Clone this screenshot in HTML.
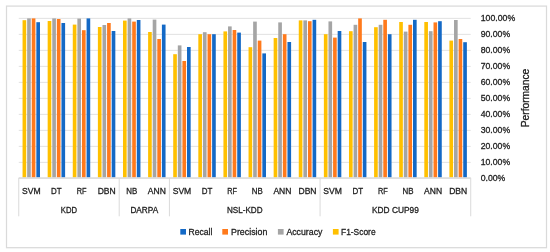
<!DOCTYPE html>
<html lang="en">
<head>
<meta charset="utf-8">
<title>Performance chart</title>
<style>
html,body{margin:0;padding:0;background:#fff;}
body{width:550px;height:252px;overflow:hidden;}
svg{display:block;}
text{font-family:"Liberation Sans", Arial, sans-serif;fill:#222222;stroke:#222222;stroke-width:0.3px;}
</style>
</head>
<body>
<svg width="550" height="252" viewBox="0 0 550 252">
<rect x="0" y="0" width="550" height="252" fill="#ffffff"/>
<rect x="6.5" y="6.1" width="540.0" height="241.6" fill="#ffffff" stroke="#DADADA" stroke-width="1.25"/>
<line x1="18.75" y1="18.40" x2="470.73" y2="18.40" stroke="#DFDFDF" stroke-width="0.9"/>
<line x1="18.75" y1="34.40" x2="470.73" y2="34.40" stroke="#DFDFDF" stroke-width="0.9"/>
<line x1="18.75" y1="50.40" x2="470.73" y2="50.40" stroke="#DFDFDF" stroke-width="0.9"/>
<line x1="18.75" y1="66.40" x2="470.73" y2="66.40" stroke="#DFDFDF" stroke-width="0.9"/>
<line x1="18.75" y1="82.40" x2="470.73" y2="82.40" stroke="#DFDFDF" stroke-width="0.9"/>
<line x1="18.75" y1="98.40" x2="470.73" y2="98.40" stroke="#DFDFDF" stroke-width="0.9"/>
<line x1="18.75" y1="114.40" x2="470.73" y2="114.40" stroke="#DFDFDF" stroke-width="0.9"/>
<line x1="18.75" y1="130.40" x2="470.73" y2="130.40" stroke="#DFDFDF" stroke-width="0.9"/>
<line x1="18.75" y1="146.40" x2="470.73" y2="146.40" stroke="#DFDFDF" stroke-width="0.9"/>
<line x1="18.75" y1="162.40" x2="470.73" y2="162.40" stroke="#DFDFDF" stroke-width="0.9"/>
<line x1="18.75" y1="178.40" x2="470.73" y2="178.40" stroke="#DFDFDF" stroke-width="0.9"/>
<rect x="22.55" y="20.20" width="3.65" height="157.20" fill="#FFC000"/>
<rect x="27.15" y="18.40" width="3.65" height="159.00" fill="#A5A5A5"/>
<rect x="31.75" y="18.40" width="3.65" height="159.00" fill="#FF7A1C"/>
<rect x="36.35" y="22.20" width="3.65" height="155.20" fill="#1469C6"/>
<rect x="47.66" y="21.00" width="3.65" height="156.40" fill="#FFC000"/>
<rect x="52.26" y="18.40" width="3.65" height="159.00" fill="#A5A5A5"/>
<rect x="56.86" y="19.00" width="3.65" height="158.40" fill="#FF7A1C"/>
<rect x="61.46" y="23.00" width="3.65" height="154.40" fill="#1469C6"/>
<rect x="72.77" y="24.60" width="3.65" height="152.80" fill="#FFC000"/>
<rect x="77.37" y="18.60" width="3.65" height="158.80" fill="#A5A5A5"/>
<rect x="81.97" y="30.20" width="3.65" height="147.20" fill="#FF7A1C"/>
<rect x="86.57" y="18.40" width="3.65" height="159.00" fill="#1469C6"/>
<rect x="97.88" y="27.00" width="3.65" height="150.40" fill="#FFC000"/>
<rect x="102.48" y="25.00" width="3.65" height="152.40" fill="#A5A5A5"/>
<rect x="107.08" y="23.00" width="3.65" height="154.40" fill="#FF7A1C"/>
<rect x="111.68" y="31.00" width="3.65" height="146.40" fill="#1469C6"/>
<rect x="122.99" y="20.60" width="3.65" height="156.80" fill="#FFC000"/>
<rect x="127.59" y="18.40" width="3.65" height="159.00" fill="#A5A5A5"/>
<rect x="132.19" y="21.60" width="3.65" height="155.80" fill="#FF7A1C"/>
<rect x="136.79" y="20.00" width="3.65" height="157.40" fill="#1469C6"/>
<rect x="148.10" y="32.00" width="3.65" height="145.40" fill="#FFC000"/>
<rect x="152.70" y="19.60" width="3.65" height="157.80" fill="#A5A5A5"/>
<rect x="157.30" y="39.00" width="3.65" height="138.40" fill="#FF7A1C"/>
<rect x="161.90" y="24.60" width="3.65" height="152.80" fill="#1469C6"/>
<rect x="173.21" y="54.20" width="3.65" height="123.20" fill="#FFC000"/>
<rect x="177.81" y="45.40" width="3.65" height="132.00" fill="#A5A5A5"/>
<rect x="182.41" y="61.00" width="3.65" height="116.40" fill="#FF7A1C"/>
<rect x="187.01" y="47.00" width="3.65" height="130.40" fill="#1469C6"/>
<rect x="198.32" y="34.20" width="3.65" height="143.20" fill="#FFC000"/>
<rect x="202.92" y="32.20" width="3.65" height="145.20" fill="#A5A5A5"/>
<rect x="207.52" y="34.20" width="3.65" height="143.20" fill="#FF7A1C"/>
<rect x="212.12" y="34.20" width="3.65" height="143.20" fill="#1469C6"/>
<rect x="223.43" y="31.40" width="3.65" height="146.00" fill="#FFC000"/>
<rect x="228.03" y="26.40" width="3.65" height="151.00" fill="#A5A5A5"/>
<rect x="232.63" y="30.00" width="3.65" height="147.40" fill="#FF7A1C"/>
<rect x="237.23" y="32.60" width="3.65" height="144.80" fill="#1469C6"/>
<rect x="248.54" y="47.20" width="3.65" height="130.20" fill="#FFC000"/>
<rect x="253.14" y="21.60" width="3.65" height="155.80" fill="#A5A5A5"/>
<rect x="257.74" y="40.60" width="3.65" height="136.80" fill="#FF7A1C"/>
<rect x="262.34" y="53.40" width="3.65" height="124.00" fill="#1469C6"/>
<rect x="273.65" y="38.00" width="3.65" height="139.40" fill="#FFC000"/>
<rect x="278.25" y="22.40" width="3.65" height="155.00" fill="#A5A5A5"/>
<rect x="282.85" y="34.20" width="3.65" height="143.20" fill="#FF7A1C"/>
<rect x="287.45" y="42.00" width="3.65" height="135.40" fill="#1469C6"/>
<rect x="298.76" y="20.40" width="3.65" height="157.00" fill="#FFC000"/>
<rect x="303.36" y="20.40" width="3.65" height="157.00" fill="#A5A5A5"/>
<rect x="307.96" y="21.20" width="3.65" height="156.20" fill="#FF7A1C"/>
<rect x="312.56" y="19.80" width="3.65" height="157.60" fill="#1469C6"/>
<rect x="323.87" y="34.20" width="3.65" height="143.20" fill="#FFC000"/>
<rect x="328.47" y="21.40" width="3.65" height="156.00" fill="#A5A5A5"/>
<rect x="333.07" y="37.60" width="3.65" height="139.80" fill="#FF7A1C"/>
<rect x="337.67" y="31.00" width="3.65" height="146.40" fill="#1469C6"/>
<rect x="348.98" y="31.20" width="3.65" height="146.20" fill="#FFC000"/>
<rect x="353.58" y="24.80" width="3.65" height="152.60" fill="#A5A5A5"/>
<rect x="358.18" y="18.40" width="3.65" height="159.00" fill="#FF7A1C"/>
<rect x="362.78" y="42.00" width="3.65" height="135.40" fill="#1469C6"/>
<rect x="374.09" y="27.20" width="3.65" height="150.20" fill="#FFC000"/>
<rect x="378.69" y="24.80" width="3.65" height="152.60" fill="#A5A5A5"/>
<rect x="383.29" y="19.80" width="3.65" height="157.60" fill="#FF7A1C"/>
<rect x="387.89" y="34.20" width="3.65" height="143.20" fill="#1469C6"/>
<rect x="399.20" y="22.00" width="3.65" height="155.40" fill="#FFC000"/>
<rect x="403.80" y="31.60" width="3.65" height="145.80" fill="#A5A5A5"/>
<rect x="408.40" y="24.80" width="3.65" height="152.60" fill="#FF7A1C"/>
<rect x="413.00" y="19.80" width="3.65" height="157.60" fill="#1469C6"/>
<rect x="424.31" y="22.00" width="3.65" height="155.40" fill="#FFC000"/>
<rect x="428.91" y="31.20" width="3.65" height="146.20" fill="#A5A5A5"/>
<rect x="433.51" y="22.40" width="3.65" height="155.00" fill="#FF7A1C"/>
<rect x="438.11" y="21.20" width="3.65" height="156.20" fill="#1469C6"/>
<rect x="449.42" y="40.60" width="3.65" height="136.80" fill="#FFC000"/>
<rect x="454.02" y="20.00" width="3.65" height="157.40" fill="#A5A5A5"/>
<rect x="458.62" y="39.00" width="3.65" height="138.40" fill="#FF7A1C"/>
<rect x="463.22" y="42.20" width="3.65" height="135.20" fill="#1469C6"/>
<line x1="18.75" y1="177.90" x2="470.73" y2="177.90" stroke="#D4D4D4" stroke-width="1"/>
<line x1="18.75" y1="177.90" x2="18.75" y2="216.30" stroke="#DADADA" stroke-width="1"/>
<line x1="119.19" y1="177.90" x2="119.19" y2="216.30" stroke="#DADADA" stroke-width="1"/>
<line x1="169.41" y1="177.90" x2="169.41" y2="216.30" stroke="#DADADA" stroke-width="1"/>
<line x1="320.07" y1="177.90" x2="320.07" y2="216.30" stroke="#DADADA" stroke-width="1"/>
<line x1="470.73" y1="177.90" x2="470.73" y2="216.30" stroke="#DADADA" stroke-width="1"/>
<text x="31.30" y="193.5" font-size="9.2" text-anchor="middle" textLength="18.6" lengthAdjust="spacingAndGlyphs">SVM</text>
<text x="56.41" y="193.5" font-size="9.2" text-anchor="middle" textLength="10.6" lengthAdjust="spacingAndGlyphs">DT</text>
<text x="81.53" y="193.5" font-size="9.2" text-anchor="middle" textLength="9.8" lengthAdjust="spacingAndGlyphs">RF</text>
<text x="106.63" y="193.5" font-size="9.2" text-anchor="middle" textLength="18.0" lengthAdjust="spacingAndGlyphs">DBN</text>
<text x="131.75" y="193.5" font-size="9.2" text-anchor="middle" textLength="11.0" lengthAdjust="spacingAndGlyphs">NB</text>
<text x="156.85" y="193.5" font-size="9.2" text-anchor="middle" textLength="18.0" lengthAdjust="spacingAndGlyphs">ANN</text>
<text x="181.97" y="193.5" font-size="9.2" text-anchor="middle" textLength="18.6" lengthAdjust="spacingAndGlyphs">SVM</text>
<text x="207.07" y="193.5" font-size="9.2" text-anchor="middle" textLength="10.6" lengthAdjust="spacingAndGlyphs">DT</text>
<text x="232.19" y="193.5" font-size="9.2" text-anchor="middle" textLength="9.8" lengthAdjust="spacingAndGlyphs">RF</text>
<text x="257.29" y="193.5" font-size="9.2" text-anchor="middle" textLength="11.0" lengthAdjust="spacingAndGlyphs">NB</text>
<text x="282.40" y="193.5" font-size="9.2" text-anchor="middle" textLength="18.0" lengthAdjust="spacingAndGlyphs">ANN</text>
<text x="307.51" y="193.5" font-size="9.2" text-anchor="middle" textLength="18.0" lengthAdjust="spacingAndGlyphs">DBN</text>
<text x="332.62" y="193.5" font-size="9.2" text-anchor="middle" textLength="18.6" lengthAdjust="spacingAndGlyphs">SVM</text>
<text x="357.74" y="193.5" font-size="9.2" text-anchor="middle" textLength="10.6" lengthAdjust="spacingAndGlyphs">DT</text>
<text x="382.84" y="193.5" font-size="9.2" text-anchor="middle" textLength="9.8" lengthAdjust="spacingAndGlyphs">RF</text>
<text x="407.95" y="193.5" font-size="9.2" text-anchor="middle" textLength="11.0" lengthAdjust="spacingAndGlyphs">NB</text>
<text x="433.06" y="193.5" font-size="9.2" text-anchor="middle" textLength="18.0" lengthAdjust="spacingAndGlyphs">ANN</text>
<text x="458.18" y="193.5" font-size="9.2" text-anchor="middle" textLength="18.0" lengthAdjust="spacingAndGlyphs">DBN</text>
<text x="68.97" y="213.2" font-size="9.2" text-anchor="middle" textLength="16.2" lengthAdjust="spacingAndGlyphs">KDD</text>
<text x="144.30" y="213.2" font-size="9.2" text-anchor="middle" textLength="27.8" lengthAdjust="spacingAndGlyphs">DARPA</text>
<text x="244.74" y="213.2" font-size="9.2" text-anchor="middle" textLength="35.6" lengthAdjust="spacingAndGlyphs">NSL-KDD</text>
<text x="395.40" y="213.2" font-size="9.2" text-anchor="middle" textLength="46.8" lengthAdjust="spacingAndGlyphs">KDD CUP99</text>
<text x="480.7" y="21.45" font-size="9.1" textLength="34.5" lengthAdjust="spacingAndGlyphs">100.00%</text>
<text x="480.7" y="37.45" font-size="9.1" textLength="29.4" lengthAdjust="spacingAndGlyphs">90.00%</text>
<text x="480.7" y="53.45" font-size="9.1" textLength="29.4" lengthAdjust="spacingAndGlyphs">80.00%</text>
<text x="480.7" y="69.45" font-size="9.1" textLength="29.4" lengthAdjust="spacingAndGlyphs">70.00%</text>
<text x="480.7" y="85.45" font-size="9.1" textLength="29.4" lengthAdjust="spacingAndGlyphs">60.00%</text>
<text x="480.7" y="101.45" font-size="9.1" textLength="29.4" lengthAdjust="spacingAndGlyphs">50.00%</text>
<text x="480.7" y="117.45" font-size="9.1" textLength="29.4" lengthAdjust="spacingAndGlyphs">40.00%</text>
<text x="480.7" y="133.45" font-size="9.1" textLength="29.4" lengthAdjust="spacingAndGlyphs">30.00%</text>
<text x="480.7" y="149.45" font-size="9.1" textLength="29.4" lengthAdjust="spacingAndGlyphs">20.00%</text>
<text x="480.7" y="165.45" font-size="9.1" textLength="29.4" lengthAdjust="spacingAndGlyphs">10.00%</text>
<text x="480.7" y="181.45" font-size="9.1" textLength="24.6" lengthAdjust="spacingAndGlyphs">0.00%</text>
<text transform="translate(529.4,127.3) rotate(-90)" font-size="10.0" textLength="58.6" lengthAdjust="spacingAndGlyphs">Performance</text>
<rect x="180.30" y="229.0" width="5.7" height="5.6" fill="#1469C6"/>
<text x="188.60" y="234.8" font-size="9.8" textLength="23.8" lengthAdjust="spacingAndGlyphs">Recall</text>
<rect x="222.30" y="229.0" width="5.7" height="5.6" fill="#FF7A1C"/>
<text x="231.00" y="234.8" font-size="9.8" textLength="36.4" lengthAdjust="spacingAndGlyphs">Precision</text>
<rect x="277.90" y="229.0" width="5.7" height="5.6" fill="#A5A5A5"/>
<text x="286.40" y="234.8" font-size="9.8" textLength="36.0" lengthAdjust="spacingAndGlyphs">Accuracy</text>
<rect x="332.90" y="229.0" width="5.7" height="5.6" fill="#FFC000"/>
<text x="341.00" y="234.8" font-size="9.8" textLength="34.6" lengthAdjust="spacingAndGlyphs">F1-Score</text>
</svg>
</body>
</html>
